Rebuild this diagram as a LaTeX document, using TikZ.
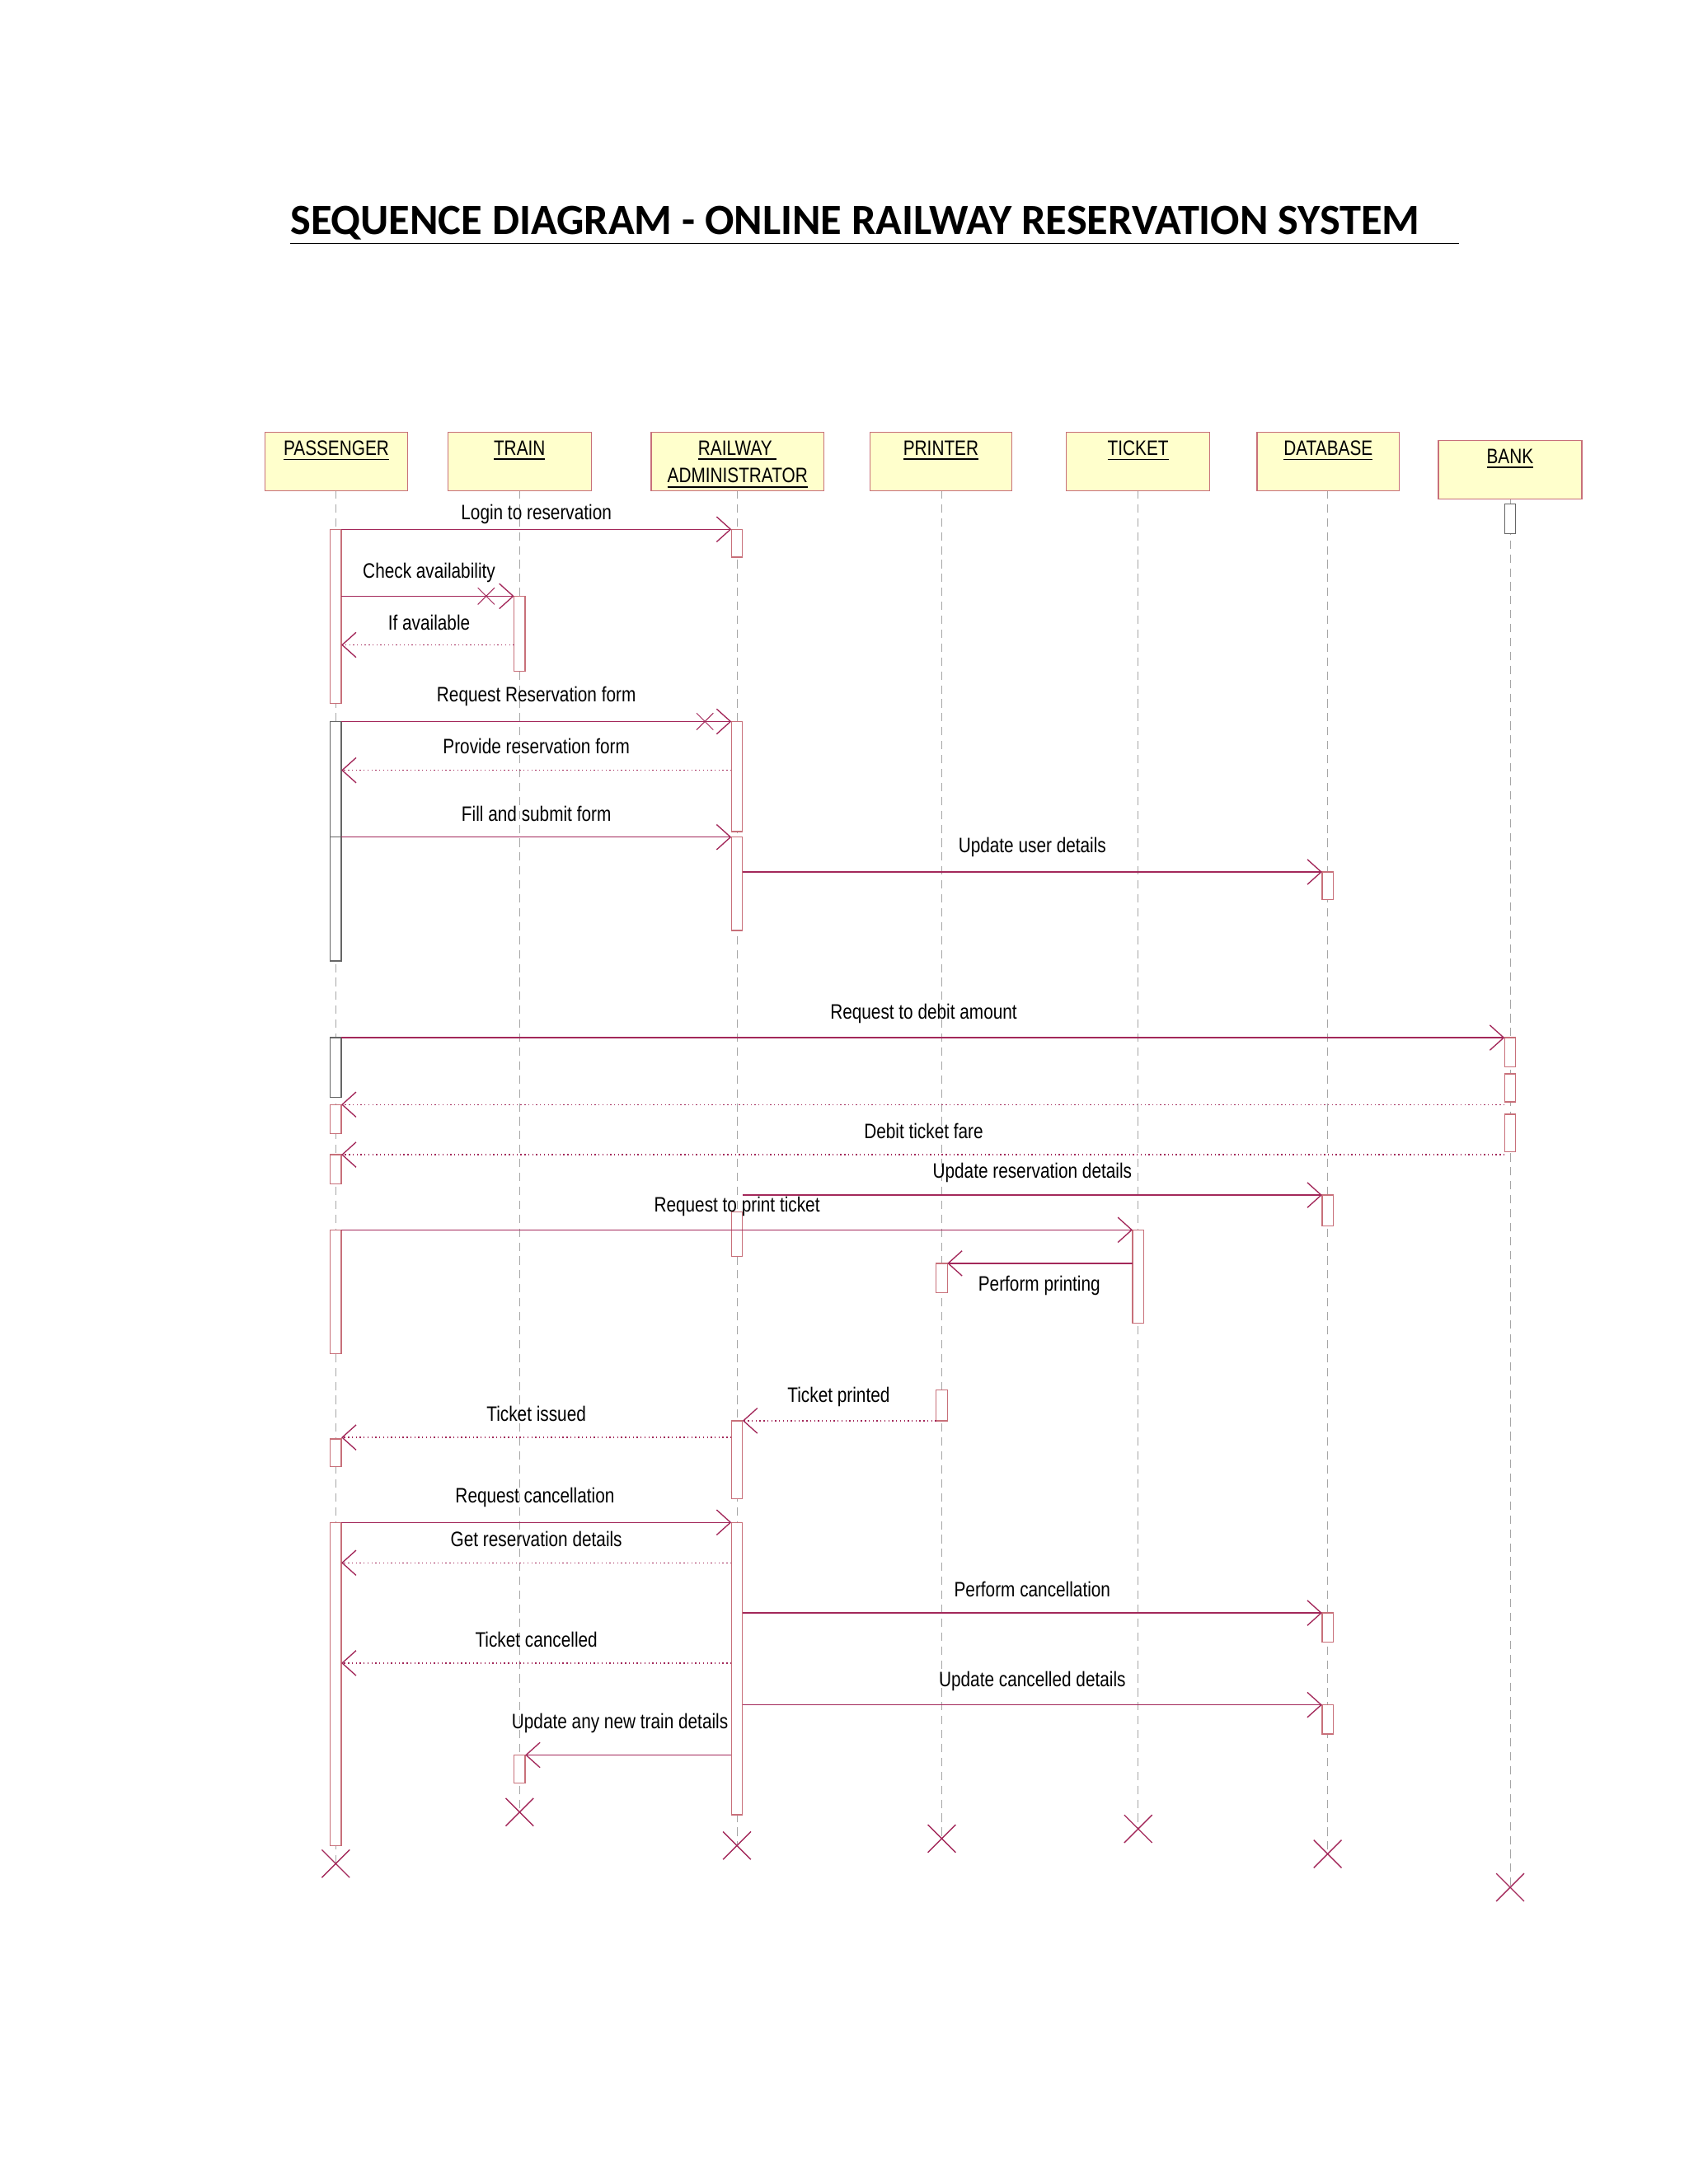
\documentclass[tikz,border=0pt]{standalone}
\usepackage{fontspec}
\setmainfont{Liberation Sans}[FakeStretch=0.82]
\newfontfamily\titlefont{Carlito}
\usetikzlibrary{arrows.meta}
\definecolor{mar}{HTML}{A3285A}
\definecolor{boxb}{HTML}{C8707A}
\definecolor{boxf}{HTML}{FFFFCC}
\tikzset{
 head/.style={draw=boxb,fill=boxf,minimum height=21pt,anchor=north west,inner sep=0pt},
 life/.style={draw=gray!70,densely dashed,line width=0.3pt},
 act/.style={draw=boxb,fill=white,line width=0.4pt},
 actg/.style={draw=gray!80!black,fill=white,line width=0.4pt},
 msg/.style={draw=mar,line width=0.4pt,-{Straight Barb[length=5pt,width=9pt]}},
 rep/.style={msg,densely dotted},
 lbl/.style={font=\fontsize{7.5}{9}\selectfont,inner sep=0pt},
 kill/.style={draw=mar,line width=0.4pt}
}
\newcommand\headbox[6]{% name, x1, x2, y1, y2, text
 \node[head,minimum width={(#3-#2)*0.5pt},minimum height={(#5-#4)*0.5pt}] (#1) at (#2,#4) {};
 \node[lbl,align=center,anchor=north] at ($(#1.north)+(0,-3pt)$) {#6};}
\newcommand\actbox[4][act]{\draw[#1] (#2-4,#3) rectangle (#2+4,#4);}
\newcommand\xmark[2]{\draw[kill] (#1-10,#2-10) -- (#1+10,#2+10) (#1-10,#2+10) -- (#1+10,#2-10);}
\usetikzlibrary{calc}
\begin{document}
\begin{tikzpicture}[x=0.5pt,y=-0.5pt]
\useasboundingbox (0,0) rectangle (1212,1568);
\fill[white] (0,0) rectangle (1212,1568);
\node[font=\titlefont\bfseries\fontsize{15.5}{18}\selectfont,inner sep=0pt] (title) at (628,162) {\underline{SEQUENCE DIAGRAM - ONLINE RAILWAY RESERVATION SYSTEM\phantom{xx}}};
% lifelines
\foreach \x/\a/\b in {241/352/1338,373/352/1301,529/352/1325,676/352/1320,817/352/1313,953/352/1331,1084/358/1355}
  \draw[life] (\x,\a) -- (\x,\b);
\headbox{P}{190}{292}{310}{352}{\underline{PASSENGER}}
\headbox{T}{321}{424}{310}{352}{\underline{TRAIN}}
\headbox{R}{467}{591}{310}{352}{\underline{RAILWAY\ }\\[1pt]\underline{ADMINISTRATOR}}
\headbox{PR}{624}{726}{310}{352}{\underline{PRINTER}}
\headbox{TK}{765}{868}{310}{352}{\underline{TICKET}}
\headbox{D}{902}{1004}{310}{352}{\underline{DATABASE}}
\headbox{B}{1032}{1135}{316}{358}{\underline{BANK}}
% activations
\actbox{241}{380}{505}
\actbox[actg]{241}{518}{690}
\draw[actg] (237,601) -- (245,601);
\actbox[actg]{241}{745}{788}
\actbox{241}{793}{814}
\actbox{241}{829}{850}
\actbox{241}{883}{972}
\actbox{241}{1033}{1053}
\actbox{241}{1093}{1325}
\actbox{373}{428}{482}
\actbox{373}{1260}{1280}
\actbox{529}{380}{400}
\actbox{529}{518}{597}
\actbox{529}{601}{668}
\actbox{529}{870}{902}
\actbox{529}{1020}{1076}
\actbox{529}{1093}{1303}
\actbox{676}{907}{928}
\actbox{676}{998}{1020}
\actbox{817}{883}{950}
\actbox{953}{626}{646}
\actbox{953}{858}{880}
\actbox{953}{1158}{1179}
\actbox{953}{1224}{1245}
\actbox[actg]{1084}{362}{383}
\actbox{1084}{745}{766}
\actbox{1084}{771}{791}
\actbox{1084}{800}{827}
% messages
\newcommand\m[6]{\draw[#1] (#2,#4) -- (#3,#4); \node[lbl] at (#5) {#6};}
\m{msg}{245}{525}{380}{385,369}{Login to reservation}
\m{msg}{245}{369}{428}{308,411}{Check availability}
\draw[kill,line width=0.3pt] (343,422) -- (355,434) (343,434) -- (355,422);
\m{rep}{369}{245}{463}{308,447}{If available}
\m{msg}{245}{525}{518}{385,500}{Request Reservation form}
\draw[kill,line width=0.3pt] (500,512) -- (512,524) (500,524) -- (512,512);
\m{rep}{525}{245}{553}{385,536}{Provide reservation form}
\m{msg}{245}{525}{601}{385,584}{Fill and submit form}
\m{msg}{533}{949}{626}{741,608}{Update user details}
\m{msg}{245}{1080}{745}{663,728}{Request to debit amount}
\m{rep}{1080}{245}{793}{663,793}{}
\m{rep}{1080}{245}{829}{663,812}{Debit ticket fare}
\m{msg}{533}{949}{858}{741,842}{Update reservation details}
\m{msg}{245}{813}{883}{529,866}{Request to print ticket}
\m{msg}{813}{680}{907}{746,923}{Perform printing}
\m{rep}{672}{533}{1020}{602,1003}{Ticket printed}
\m{rep}{525}{245}{1032}{385,1015}{Ticket issued}
\m{msg}{245}{525}{1093}{384,1075}{Request cancellation}
\m{rep}{525}{245}{1122}{385,1105}{Get reservation details}
\m{msg}{533}{949}{1158}{741,1141}{Perform cancellation}
\m{rep}{525}{245}{1194}{385,1177}{Ticket cancelled}
\m{msg}{533}{949}{1224}{741,1207}{Update cancelled details}
\m{msg}{525}{377}{1260}{445,1237}{Update any new train details}
% destroy
\xmark{241}{1338}
\xmark{373}{1301}
\xmark{529}{1325}
\xmark{676}{1320}
\xmark{817}{1313}
\xmark{953}{1331}
\xmark{1084}{1355}
\end{tikzpicture}
\end{document}
